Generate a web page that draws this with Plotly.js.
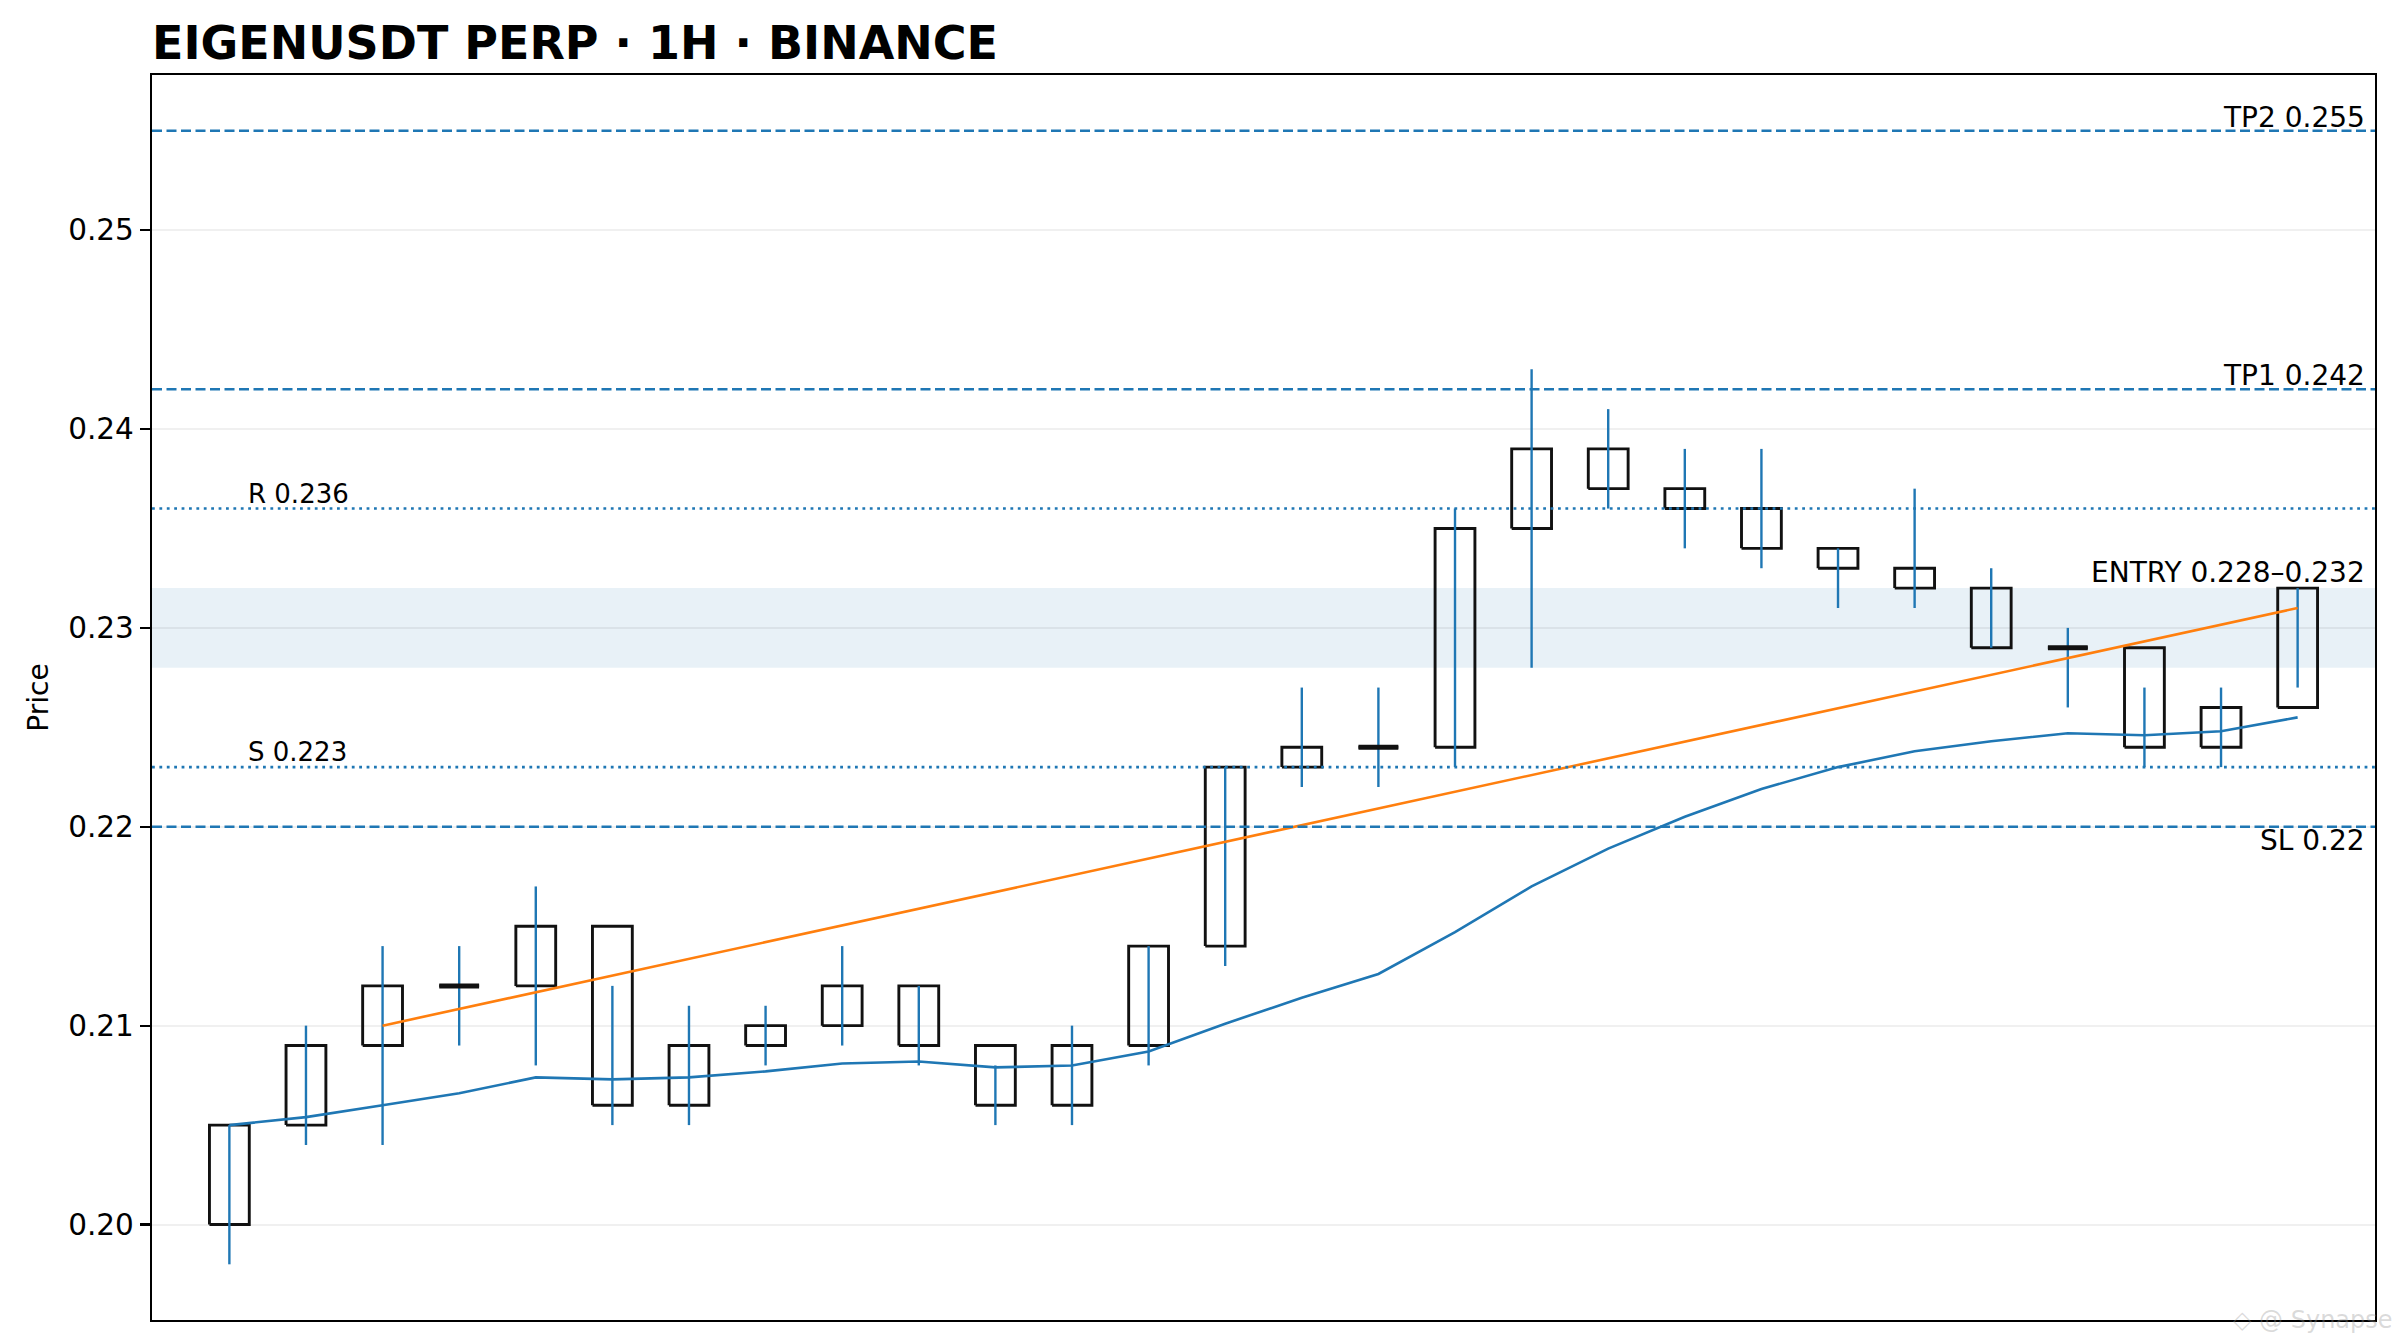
<!DOCTYPE html>
<html>
<head>
<meta charset="utf-8">
<script src="https://cdn.plot.ly/plotly-3.0.1.min.js"></script>
<style>
    body { margin: 0; background: #fff; }
    #chart { width: 2397px; height: 1342px; }
</style>
</head>
<body>
<div id="chart"></div>
<script>
// hourly candles
var opens  = [0.200, 0.205, 0.209, 0.212, 0.212, 0.215, 0.206, 0.209, 0.210, 0.212, 0.209, 0.206, 0.209, 0.214,
              0.223, 0.224, 0.224, 0.235, 0.239, 0.237, 0.236, 0.234, 0.233, 0.232, 0.229, 0.229, 0.224, 0.226];
var highs  = [0.205, 0.210, 0.214, 0.214, 0.217, 0.212, 0.211, 0.211, 0.214, 0.212, 0.208, 0.210, 0.214, 0.223,
              0.227, 0.227, 0.236, 0.243, 0.241, 0.239, 0.239, 0.234, 0.237, 0.233, 0.230, 0.227, 0.227, 0.232];
var lows   = [0.198, 0.204, 0.204, 0.209, 0.208, 0.205, 0.205, 0.208, 0.209, 0.208, 0.205, 0.205, 0.208, 0.213,
              0.222, 0.222, 0.223, 0.228, 0.236, 0.234, 0.233, 0.231, 0.231, 0.229, 0.226, 0.223, 0.223, 0.227];
var closes = [0.205, 0.209, 0.212, 0.212, 0.215, 0.206, 0.209, 0.210, 0.212, 0.209, 0.206, 0.209, 0.214, 0.223,
              0.224, 0.224, 0.235, 0.239, 0.237, 0.236, 0.234, 0.233, 0.232, 0.229, 0.229, 0.224, 0.226, 0.232];

// moving average line (blue)
var emaValues = [0.2050, 0.2054, 0.2060, 0.2066, 0.2074, 0.2073, 0.2074, 0.2077, 0.2081, 0.2082, 0.2079, 0.2080,
                 0.2087, 0.2101, 0.2114, 0.2126, 0.2147, 0.2170, 0.2189, 0.2205, 0.2219, 0.2230, 0.2238, 0.2243,
                 0.2247, 0.2246, 0.2248, 0.2255];

// trend line (orange)
var trendX = [2, 27];
var trendY = [0.210, 0.231];

// trade levels
var levelNames  = ["TP2", "TP1", "R", "S", "SL"];
var levelValues = [0.255, 0.242, 0.236, 0.223, 0.220];
var levelDash   = ["dash", "dash", "dot", "dot", "dash"];
var entryZone   = [0.228, 0.232];

var tickVals = [0.20, 0.21, 0.22, 0.23, 0.24, 0.25];
var tickText = ["0.20", "0.21", "0.22", "0.23", "0.24", "0.25"];

var BLUE = "#1f77b4";
var FONT = "DejaVu Sans, Liberation Sans, sans-serif";
var bodyHalf = 0.26;

// bodies: open rectangles, one segment per candle
var bodyX = [], bodyY = [];
var wickX = [], wickY = [];
var dojiX = [], dojiY = [];
var idx = [];
for (var i = 0; i < opens.length; i++) {
    idx.push(i);
    var bodyTop = Math.max(opens[i], closes[i]);
    var bodyBot = Math.min(opens[i], closes[i]);
    bodyX.push(i - bodyHalf, i + bodyHalf, i + bodyHalf, i - bodyHalf, i - bodyHalf, null);
    bodyY.push(bodyBot, bodyBot, bodyTop, bodyTop, bodyBot, null);
    wickX.push(i, i, null);
    wickY.push(lows[i], highs[i], null);
    if (opens[i] === closes[i]) {
        dojiX.push(i - bodyHalf, i + bodyHalf, null);
        dojiY.push(opens[i], opens[i], null);
    }
}

var traceBodies = {
    x: bodyX, y: bodyY,
    type: "scatter", mode: "lines",
    line: {color: "#111111", width: 2.9, simplify: false},
    connectgaps: false,
    hoverinfo: "skip"
};

var traceWicks = {
    x: wickX, y: wickY,
    type: "scatter", mode: "lines",
    line: {color: BLUE, width: 2.4, simplify: false},
    connectgaps: false,
    hoverinfo: "skip"
};

var traceDoji = {
    x: dojiX, y: dojiY,
    type: "scatter", mode: "lines",
    line: {color: "#111111", width: 5, simplify: false},
    connectgaps: false,
    hoverinfo: "skip"
};

var traceEma = {
    x: idx, y: emaValues,
    type: "scatter", mode: "lines",
    line: {color: BLUE, width: 2.6}
};

var traceTrend = {
    x: trendX, y: trendY,
    type: "scatter", mode: "lines",
    line: {color: "#ff7f0e", width: 2.6}
};

var data = [traceBodies, traceWicks, traceDoji, traceEma, traceTrend];

var shapes = [{
    type: "rect", xref: "paper", yref: "y",
    x0: 0, x1: 1, y0: entryZone[0], y1: entryZone[1],
    fillcolor: "rgba(31,119,180,0.1)", line: {width: 0},
    layer: "below"
}];

var annotations = [];

for (var k = 0; k < levelValues.length; k++) {
    shapes.push({
        type: "line", xref: "paper", yref: "y",
        x0: 0, x1: 1, y0: levelValues[k], y1: levelValues[k],
        line: {color: BLUE, width: 2.6, dash: levelDash[k] === "dash" ? "10px,4.5px" : "2.8px,4.6px"},
        layer: "above"
    });
    var label = levelNames[k] + " " + levelValues[k];
    if (levelNames[k] === "R" || levelNames[k] === "S") {
        annotations.push({
            text: label, xref: "x", yref: "y", x: 0.22, y: levelValues[k],
            xanchor: "left", yanchor: "bottom", yshift: -2,
            showarrow: false, font: {family: FONT, size: 26, color: "#000"}
        });
    } else if (levelNames[k] === "SL") {
        annotations.push({
            text: label, xref: "paper", yref: "y", x: 1, y: levelValues[k],
            xanchor: "right", yanchor: "top", xshift: -8, yshift: 5,
            showarrow: false, font: {family: FONT, size: 28, color: "#000"}
        });
    } else {
        annotations.push({
            text: label, xref: "paper", yref: "y", x: 1, y: levelValues[k],
            xanchor: "right", yanchor: "bottom", xshift: -8, yshift: -5,
            showarrow: false, font: {family: FONT, size: 28, color: "#000"}
        });
    }
}

annotations.push({
    text: "ENTRY " + entryZone[0] + "–" + entryZone[1],
    xref: "paper", yref: "y", x: 1, y: entryZone[1],
    xanchor: "right", yanchor: "bottom", xshift: -8, yshift: -3,
    showarrow: false, font: {family: FONT, size: 28, color: "#000"}
});

annotations.push({
    text: "◇ @ Synapse",
    xref: "paper", yref: "paper", x: 1, y: 0,
    xanchor: "right", yanchor: "middle", xshift: 20,
    showarrow: false, font: {family: FONT, size: 24, color: "rgba(150,150,150,0.35)"}
});

var layout = {
    width: 2397,
    height: 1342,
    margin: {l: 152, r: 22, t: 75, b: 22},
    paper_bgcolor: "#ffffff",
    plot_bgcolor: "#ffffff",
    showlegend: false,
    font: {family: FONT, size: 28, color: "#000"},
    title: {
        text: "<b>EIGENUSDT PERP · 1H · BINANCE</b>",
        font: {family: FONT, size: 46, color: "#000"},
        xref: "paper", x: 0, xanchor: "left",
        yref: "container", y: 0.968, yanchor: "middle"
    },
    xaxis: {
        range: [-1.01, 28.01],
        showgrid: false, zeroline: false,
        showticklabels: false, ticks: "",
        showline: true, mirror: true, linecolor: "#000", linewidth: 2.2
    },
    yaxis: {
        range: [0.1952, 0.2578],
        tickvals: tickVals, ticktext: tickText,
        ticks: "outside", ticklen: 10, tickwidth: 2.2, tickcolor: "#000",
        tickfont: {family: FONT, size: 29.5, color: "#000"},
        showgrid: true, gridcolor: "rgba(0,0,0,0.06)", gridwidth: 2,
        zeroline: false,
        showline: true, mirror: true, linecolor: "#000", linewidth: 2.2,
        title: {text: "Price", font: {family: FONT, size: 28, color: "#000"}, standoff: 12}
    },
    shapes: shapes,
    annotations: annotations
};

Plotly.newPlot("chart", data, layout, {staticPlot: true});
</script>
</body>
</html>
